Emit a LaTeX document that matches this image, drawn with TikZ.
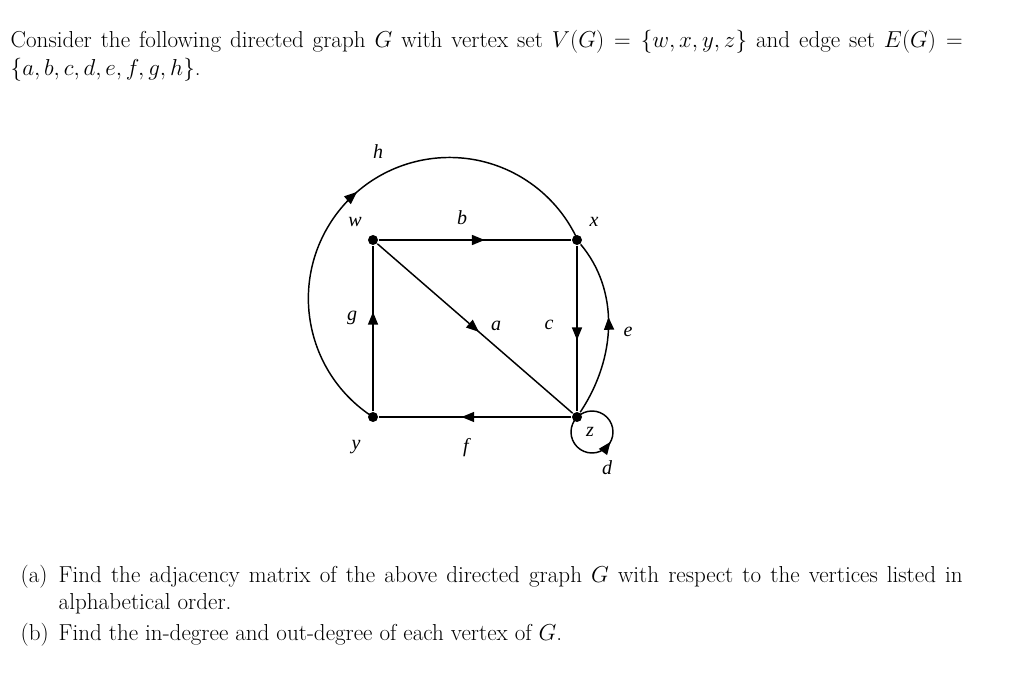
\documentclass[tikz,border=0pt]{standalone}
\usepackage{fontspec}
\newfontfamily\lblfont{Liberation Serif}
\usetikzlibrary{arrows.meta,decorations.markings,calc}
\tikzset{
  vertex/.style={circle,fill=black,inner sep=0pt,minimum size=7.5pt},
  lbl/.style={font=\lblfont\itshape\fontsize{15}{18}\selectfont,inner sep=0pt},
  txt/.style={font=\fontsize{17.3}{20.3}\selectfont,inner sep=0pt,anchor=base west,align=justify},
  tip/.style={-{Triangle[length=9.5pt,width=7.5pt]}},
  arrowat/.style={postaction={decorate},decoration={markings,
      mark=at position #1 with {\arrow{Triangle[length=9.5pt,width=7.5pt]}}}},
}
\begin{document}
\begin{tikzpicture}[x=0.75pt,y=0.75pt,line width=1.1pt]
  \useasboundingbox (0,0) rectangle (1024,672);
  % question text
  \node[txt,text width=714pt] (intro) at (10,624) {Consider the following directed graph $G$ with vertex set $V(G)=\{w,x,y,z\}$ and edge set $E(G)=\{a,b,c,d,e,f,g,h\}$.};
  \node[txt] (qalbl) at (20,90) {(a)};
  \node[txt,text width=678pt] (qa) at (58,90) {Find the adjacency matrix of the above directed graph $G$ with respect to the vertices listed in alphabetical order.};
  \node[txt] (qblbl) at (20,32) {(b)};
  \node[txt] (qb) at (58,32) {Find the in-degree and out-degree of each vertex of $G$.};
  % vertices
  \node[vertex] (w) at (373,432) {};
  \node[vertex] (x) at (577,432) {};
  \node[vertex] (y) at (373,255) {};
  \node[vertex] (z) at (577,255) {};
  \coordinate (dc) at (592,240);
  % edges
  \draw[arrowat=0.55] (w) -- (x);
  \draw[arrowat=0.52] (w) -- (z);
  \draw[arrowat=0.57] (x) -- (z);
  \draw[arrowat=0.57] (z) -- (y);
  \draw[arrowat=0.6] (y) -- (w);
  \draw[arrowat=0.56] (z) .. controls +(40,60) and +(42,-50) .. (x);
  \draw (dc) circle[radius=21];
  \draw[tip] ($(dc)+(-46:21)$) -- ($(dc)+(-28:21)$);
  \draw[arrowat=0.5] (y.center) arc[start angle=237.2,end angle=24.7,radius=141];
  % labels
  \node[lbl] (lh) at (378,520) {h};
  \node[lbl] (lw) at (355,450) {w};
  \node[lbl] (lb) at (462,454) {b};
  \node[lbl] (lx) at (594,450) {x};
  \node[lbl] (lg) at (352,354) {g};
  \node[lbl] (la) at (496,346) {a};
  \node[lbl] (lc) at (549,347) {c};
  \node[lbl] (le) at (628,340) {e};
  \node[lbl] (ly) at (356,225) {y};
  \node[lbl] (lf) at (466,224) {f};
  \node[lbl] (lz) at (590,240) {z};
  \node[lbl] (ld) at (607,204) {d};
\end{tikzpicture}
\end{document}
